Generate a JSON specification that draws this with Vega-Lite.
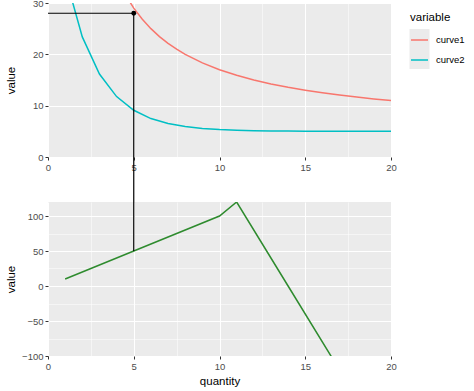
{
  "$schema": "https://vega.github.io/schema/vega-lite/v6.json",
  "padding": {"left": 5, "top": -2, "right": 0, "bottom": 0},
  "bounds": "flush",
  "spacing": 45,
  "datasets": {
    "curves": [
      {"quantity": 1, "value": 125, "variable": "curve1"},
      {"quantity": 2, "value": 65, "variable": "curve1"},
      {"quantity": 3, "value": 45, "variable": "curve1"},
      {"quantity": 4, "value": 35, "variable": "curve1"},
      {"quantity": 4.5, "value": 31.67, "variable": "curve1"},
      {"quantity": 5, "value": 29, "variable": "curve1"},
      {"quantity": 5.5, "value": 26.82, "variable": "curve1"},
      {"quantity": 6, "value": 25, "variable": "curve1"},
      {"quantity": 6.5, "value": 23.46, "variable": "curve1"},
      {"quantity": 7, "value": 22.14, "variable": "curve1"},
      {"quantity": 7.5, "value": 21, "variable": "curve1"},
      {"quantity": 8, "value": 20, "variable": "curve1"},
      {"quantity": 9, "value": 18.33, "variable": "curve1"},
      {"quantity": 10, "value": 17, "variable": "curve1"},
      {"quantity": 11, "value": 15.91, "variable": "curve1"},
      {"quantity": 12, "value": 15, "variable": "curve1"},
      {"quantity": 13, "value": 14.23, "variable": "curve1"},
      {"quantity": 14, "value": 13.57, "variable": "curve1"},
      {"quantity": 15, "value": 13, "variable": "curve1"},
      {"quantity": 16, "value": 12.5, "variable": "curve1"},
      {"quantity": 17, "value": 12.06, "variable": "curve1"},
      {"quantity": 18, "value": 11.67, "variable": "curve1"},
      {"quantity": 19, "value": 11.32, "variable": "curve1"},
      {"quantity": 20, "value": 11, "variable": "curve1"},
      {"quantity": 1, "value": 35.33, "variable": "curve2"},
      {"quantity": 2, "value": 23.39, "variable": "curve2"},
      {"quantity": 3, "value": 16.16, "variable": "curve2"},
      {"quantity": 4, "value": 11.77, "variable": "curve2"},
      {"quantity": 5, "value": 9.1, "variable": "curve2"},
      {"quantity": 6, "value": 7.49, "variable": "curve2"},
      {"quantity": 7, "value": 6.51, "variable": "curve2"},
      {"quantity": 8, "value": 5.92, "variable": "curve2"},
      {"quantity": 9, "value": 5.56, "variable": "curve2"},
      {"quantity": 10, "value": 5.34, "variable": "curve2"},
      {"quantity": 11, "value": 5.2, "variable": "curve2"},
      {"quantity": 12, "value": 5.12, "variable": "curve2"},
      {"quantity": 13, "value": 5.08, "variable": "curve2"},
      {"quantity": 14, "value": 5.05, "variable": "curve2"},
      {"quantity": 15, "value": 5.03, "variable": "curve2"},
      {"quantity": 16, "value": 5.02, "variable": "curve2"},
      {"quantity": 17, "value": 5.01, "variable": "curve2"},
      {"quantity": 18, "value": 5.01, "variable": "curve2"},
      {"quantity": 19, "value": 5.0, "variable": "curve2"},
      {"quantity": 20, "value": 5.0, "variable": "curve2"}
    ],
    "keys": [
      {"key": "curve1", "quantity": -5, "value": -5},
      {"key": "curve2", "quantity": -5, "value": -5}
    ],
    "green": [
      {"quantity": 1, "value": 10},
      {"quantity": 5, "value": 50},
      {"quantity": 10, "value": 100},
      {"quantity": 11, "value": 120},
      {"quantity": 14, "value": 0},
      {"quantity": 17, "value": -120}
    ],
    "marker": [
      {"quantity": 5, "value": 28, "x_from": 0, "lower": 50, "upper": 389.6}
    ]
  },
  "config": {
    "font": "Liberation Sans",
    "view": {"fill": "#EBEBEB", "stroke": null},
    "axis": {
      "domain": false,
      "grid": true,
      "gridColor": "#FFFFFF",
      "tickColor": "#333333",
      "tickSize": 3,
      "tickWidth": 1,
      "labelColor": "#4D4D4D",
      "labelFontSize": 9.5,
      "labelPadding": 2,
      "labelOverlap": false,
      "titleFontSize": 11.5,
      "titleColor": "#000000",
      "titleFontWeight": "normal"
    },
    "legend": {
      "titleFontSize": 11.5,
      "titleColor": "#000000",
      "titleFontWeight": "normal",
      "labelFontSize": 9.5,
      "labelColor": "#000000"
    }
  },
  "vconcat": [
    {
      "width": 343,
      "height": 154,
      "layer": [
        {
          "data": {"name": "curves"},
          "mark": {"type": "line", "strokeWidth": 1.5, "clip": true},
          "encoding": {
            "x": {
              "field": "quantity", "type": "quantitative",
              "scale": {"domain": [0, 20], "nice": false, "zero": false},
              "axis": {
                "title": null,
                "values": [0, 2.5, 5, 7.5, 10, 12.5, 15, 17.5, 20],
                "labelExpr": "datum.value % 5 === 0 ? datum.label : ''",
                "labelOverlap": false,
                "gridWidth": {"condition": {"test": "datum.value % 5 === 0", "value": 1.1}, "value": 0.5},
                "tickOpacity": {"condition": {"test": "datum.value % 5 === 0", "value": 1}, "value": 0},
                "labelFlush": false
              }
            },
            "y": {
              "field": "value", "type": "quantitative",
              "scale": {"domain": [0, 30], "nice": false, "zero": false},
              "axis": {
                "title": "value",
                "values": [0, 5, 10, 15, 20, 25, 30],
                "labelExpr": "datum.value % 10 === 0 ? datum.label : ''",
                "labelOverlap": false,
                "gridWidth": {"condition": {"test": "datum.value % 10 === 0", "value": 1.1}, "value": 0.5},
                "tickOpacity": {"condition": {"test": "datum.value % 10 === 0", "value": 1}, "value": 0},
                "labelFlush": false,
                "titleX": -37,
                "titleY": 77,
                "titleBaseline": "middle",
                "titleAlign": "center",
                "titleAngle": 270
              }
            },
            "color": {
              "field": "variable", "type": "nominal",
              "scale": {"domain": ["curve1", "curve2"], "range": ["#F8766D", "#00BFC4"]},
              "legend": {
                "title": "variable",
                "orient": "none",
                "legendX": 362,
                "legendY": 9,
                "zindex": 1,
                "symbolType": "stroke",
                "symbolSize": 289,
                "symbolStrokeWidth": 1.5,
                "rowPadding": 6,
                "titlePadding": 7,
                "labelOffset": 7
              }
            }
          }
        },
        {
          "data": {"name": "keys"},
          "mark": {"type": "point", "filled": true, "clip": true, "color": "#EBEBEB"},
          "encoding": {
            "x": {"field": "quantity", "type": "quantitative"},
            "y": {"field": "value", "type": "quantitative"},
            "shape": {
              "field": "key", "type": "nominal",
              "scale": {"range": ["square", "square"]},
              "legend": {
                "title": null,
                "orient": "none",
                "legendX": 361.5,
                "legendY": 26,
                "zindex": 0,
                "symbolSize": 400,
                "symbolFillColor": "#EBEBEB",
                "symbolStrokeWidth": 0,
                "symbolOpacity": 1,
                "rowPadding": 0,
                "labelExpr": "''",
                "labelOffset": 0
              }
            }
          }
        },
        {
          "data": {"name": "marker"},
          "mark": {"type": "rule", "color": "#000000", "strokeWidth": 1.2},
          "encoding": {
            "x": {"field": "x_from", "type": "quantitative"},
            "x2": {"field": "quantity"},
            "y": {"field": "value", "type": "quantitative"}
          }
        },
        {
          "data": {"name": "marker"},
          "mark": {"type": "point", "filled": true, "color": "#000000", "size": 24, "opacity": 1},
          "encoding": {
            "x": {"field": "quantity", "type": "quantitative"},
            "y": {"field": "value", "type": "quantitative"}
          }
        }
      ]
    },
    {
      "width": 343,
      "height": 154,
      "layer": [
        {
          "data": {"name": "green"},
          "mark": {"type": "line", "strokeWidth": 1.5, "clip": true, "color": "#2E8B2E"},
          "encoding": {
            "x": {
              "field": "quantity", "type": "quantitative",
              "scale": {"domain": [0, 20], "nice": false, "zero": false},
              "axis": {
                "title": "quantity",
                "values": [0, 2.5, 5, 7.5, 10, 12.5, 15, 17.5, 20],
                "labelExpr": "datum.value % 5 === 0 ? datum.label : ''",
                "labelOverlap": false,
                "gridWidth": {"condition": {"test": "datum.value % 5 === 0", "value": 1.1}, "value": 0.5},
                "tickOpacity": {"condition": {"test": "datum.value % 5 === 0", "value": 1}, "value": 0},
                "labelFlush": false,
                "titleY": 25,
                "titleBaseline": "middle"
              }
            },
            "y": {
              "field": "value", "type": "quantitative",
              "scale": {"domain": [-100, 120], "nice": false, "zero": false},
              "axis": {
                "title": "value",
                "values": [-100, -75, -50, -25, 0, 25, 50, 75, 100],
                "labelExpr": "datum.value % 50 === 0 ? datum.label : ''",
                "labelOverlap": false,
                "gridWidth": {"condition": {"test": "datum.value % 50 === 0", "value": 1.1}, "value": 0.5},
                "tickOpacity": {"condition": {"test": "datum.value % 50 === 0", "value": 1}, "value": 0},
                "labelFlush": false,
                "titleX": -37,
                "titleY": 77,
                "titleBaseline": "middle",
                "titleAlign": "center",
                "titleAngle": 270
              }
            }
          }
        },
        {
          "data": {"name": "marker"},
          "mark": {"type": "rule", "color": "#000000", "strokeWidth": 1.2, "clip": false},
          "encoding": {
            "x": {
              "field": "quantity", "type": "quantitative",
              "axis": {
                "title": "quantity",
                "values": [0, 2.5, 5, 7.5, 10, 12.5, 15, 17.5, 20],
                "labelExpr": "datum.value % 5 === 0 ? datum.label : ''",
                "labelOverlap": false,
                "gridWidth": {"condition": {"test": "datum.value % 5 === 0", "value": 1.1}, "value": 0.5},
                "tickOpacity": {"condition": {"test": "datum.value % 5 === 0", "value": 1}, "value": 0},
                "labelFlush": false,
                "titleY": 25,
                "titleBaseline": "middle"
              }
            },
            "y": {
              "field": "lower", "type": "quantitative",
              "axis": {
                "title": "value",
                "values": [-100, -75, -50, -25, 0, 25, 50, 75, 100],
                "labelExpr": "datum.value % 50 === 0 ? datum.label : ''",
                "labelOverlap": false,
                "gridWidth": {"condition": {"test": "datum.value % 50 === 0", "value": 1.1}, "value": 0.5},
                "tickOpacity": {"condition": {"test": "datum.value % 50 === 0", "value": 1}, "value": 0},
                "labelFlush": false,
                "titleX": -37,
                "titleY": 77,
                "titleBaseline": "middle",
                "titleAlign": "center",
                "titleAngle": 270
              }
            },
            "y2": {"field": "upper"}
          }
        }
      ]
    }
  ]
}
